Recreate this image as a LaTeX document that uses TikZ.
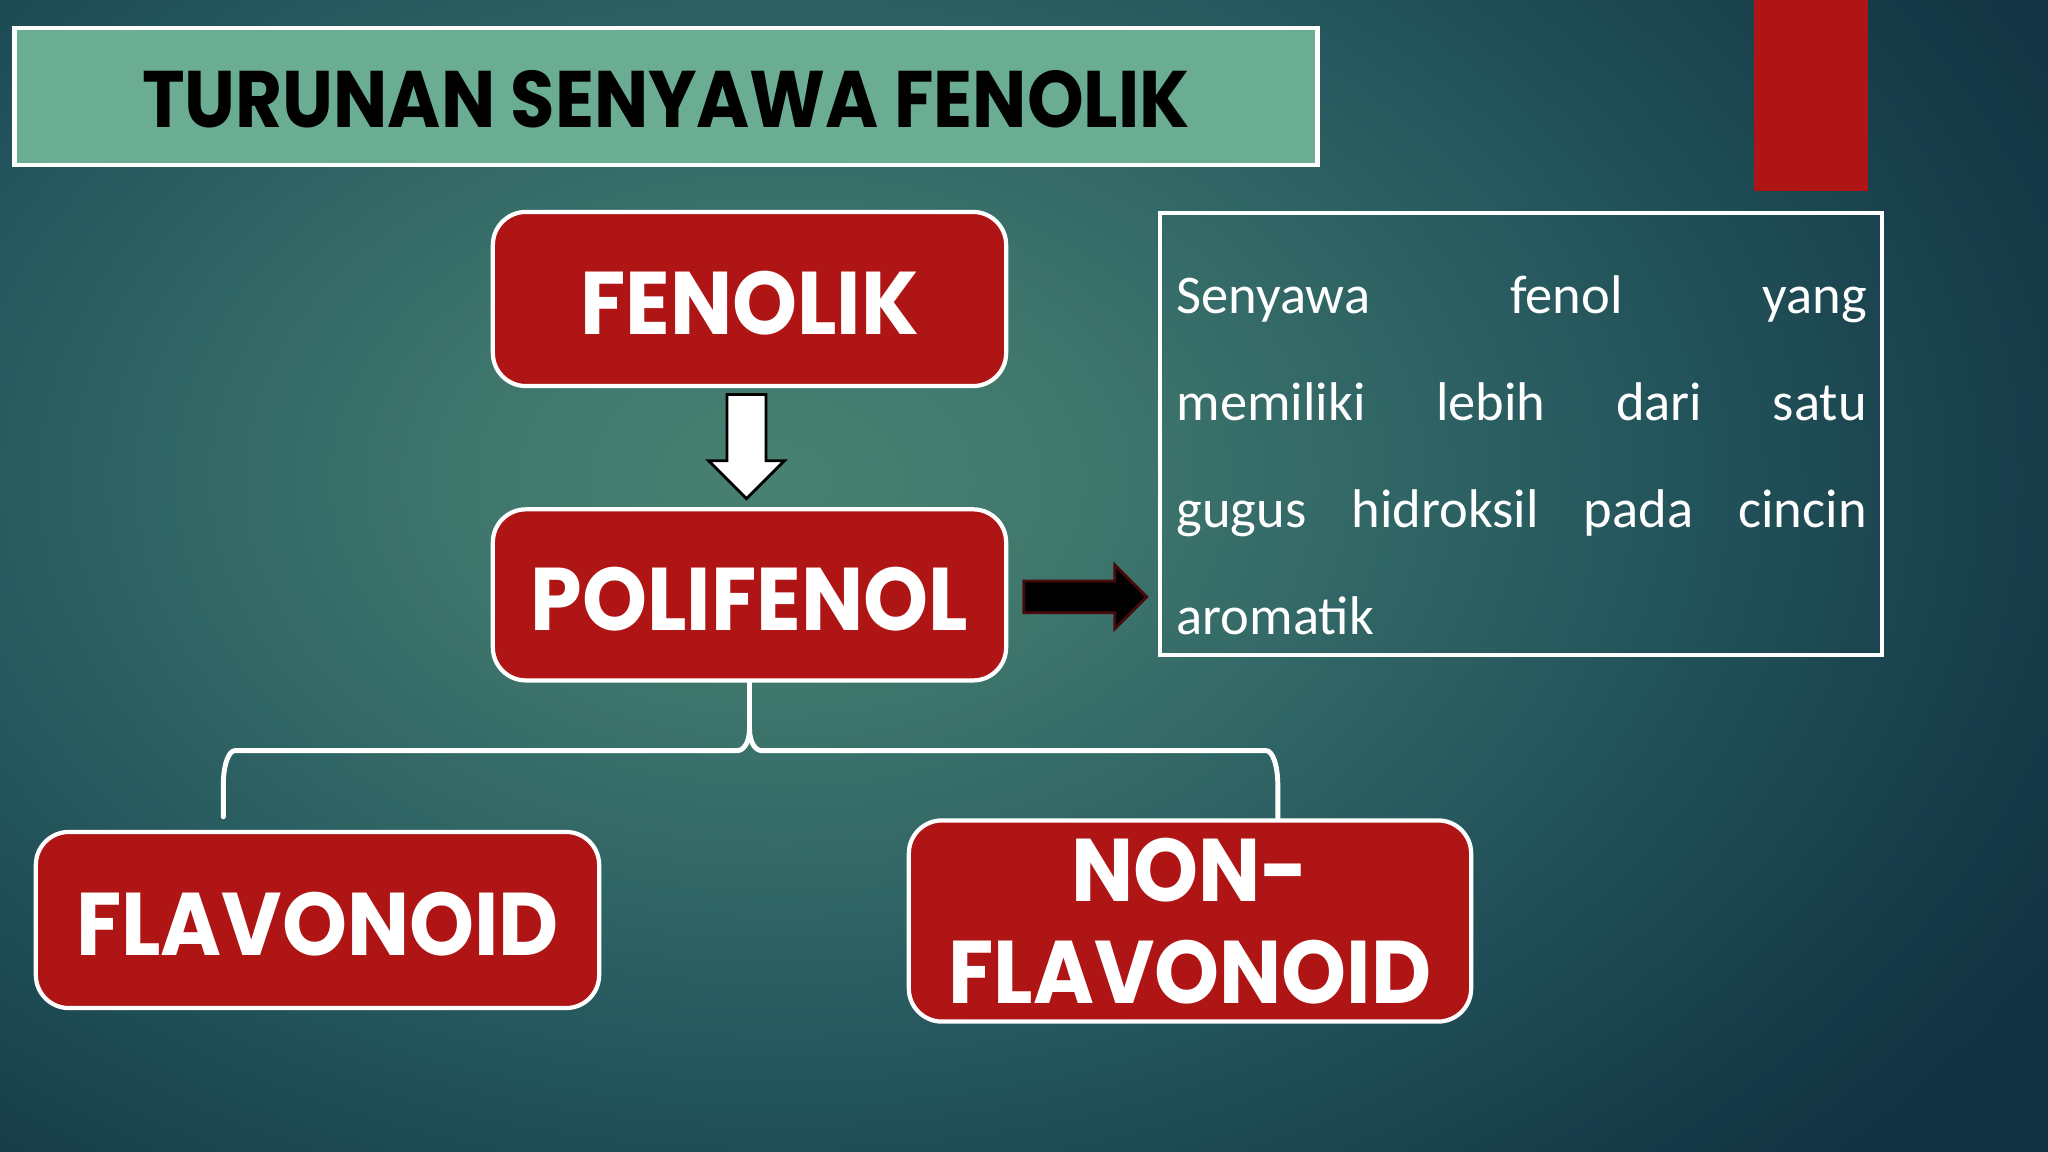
\documentclass[tikz,border=0pt]{standalone}
\usepackage{fontspec}
\setmainfont{Carlito}
\newfontfamily\gothic[FakeStretch=0.93]{Poppins}
\newfontfamily\gothictitle[FakeStretch=0.9]{Poppins}
\usepackage{tikz}
\usetikzlibrary{shapes.arrows, calc, positioning}
\definecolor{boxred}{RGB}{175,21,21}
\definecolor{titlegreen}{RGB}{107,173,146}
\definecolor{arrowrim}{RGB}{72,10,10}
\definecolor{bgcenter}{RGB}{72,128,113}
\definecolor{bginner}{RGB}{64,120,109}
\definecolor{bgmid}{RGB}{48,101,101}
\definecolor{bgouter}{RGB}{35,84,91}
\definecolor{bgdark}{RGB}{25,66,77}
\definecolor{bgedge}{RGB}{18,50,65}
\pgfdeclareradialshading{backglow}{\pgfpoint{0bp}{0bp}}{color(0bp)=(bgcenter); color(5bp)=(bginner); color(11bp)=(bgmid); color(16bp)=(bgouter); color(21bp)=(bgdark); color(26bp)=(bgedge); color(50bp)=(bgedge)}
\tikzstyle{titlebox} = [rectangle, draw=white, line width=1.3pt, fill=titlegreen, minimum width=13.02cm, minimum height=1.37cm, text height=18pt, font=\gothictitle\bfseries\fontsize{22.8}{26}\selectfont]
\tikzstyle{redbox} = [rectangle, rounded corners=0.33cm, draw=white, line width=1.2pt, fill=boxred, text=white, align=center, inner sep=0pt, font=\gothic\bfseries\fontsize{25.3}{29}\selectfont]
\tikzstyle{descframe} = [rectangle, draw=white, line width=1.1pt, minimum width=7.22cm, minimum height=4.42cm]
\tikzstyle{desctext} = [text=white, text width=6.9cm, align=left, inner sep=0pt, font=\fontsize{15.5}{30.4}\selectfont]
\tikzstyle{downarrow} = [single arrow, draw=black, line width=0.8pt, fill=white, minimum height=1.04cm, inner xsep=0pt, inner ysep=0.18cm, single arrow head extend=0.185cm, single arrow head indent=0cm]
\tikzstyle{rightarrow} = [single arrow, draw=arrowrim, line width=0.8pt, fill=black, minimum height=1.23cm, inner xsep=0pt, inner ysep=0.145cm, single arrow head extend=0.16cm, single arrow head indent=0cm]
\tikzstyle{bracket} = [draw=white, line width=1.4pt, line cap=round]

\begin{document}
\begin{tikzpicture}[x=0.01cm, y=-0.01cm]
		\useasboundingbox (0,0) rectangle (2048,1152);
		\begin{scope}
			\clip (0,0) rectangle (2048,1152);
			\shade[shading=backglow] (-620,-470) rectangle (2180,1430);
		\end{scope}
		\fill[boxred] (1754,0) rectangle (1868,191);
		\node (title) [titlebox] at (666,96.5) {TURUNAN SENYAWA FENOLIK};
		\node (fenolik) [redbox, minimum width=5.13cm, minimum height=1.74cm, text height=20.5pt] at (749.5,299) {FENOLIK};
		\node (polifenol) [redbox, minimum width=5.13cm, minimum height=1.71cm, text height=20.5pt, below = 1.19cm of fenolik] {POLIFENOL};
		\node (flavonoid) [redbox, minimum width=5.63cm, minimum height=1.76cm, text height=20.5pt] at (317.5,920) {FLAVONOID};
		\node (nonflav) [redbox, minimum width=5.62cm, minimum height=2.01cm] at (1190,921) {NON-\\FLAVONOID};
		\node (desc) [descframe] at (1521,434) {};
		\node (desctext) [desctext, anchor=north west] at ($(desc.north west)+(18,64)$) {%
			\makebox[6.9cm]{Senyawa\hfill fenol\hfill yang}\\
			\makebox[6.9cm]{memiliki\hfill lebih\hfill dari\hfill satu}\\
			\makebox[6.9cm]{gugus\hfill hidroksil\hfill pada\hfill cincin}\\
			aromatik};
		\node (down) [downarrow, rotate=-90, anchor=tail] at ($(fenolik.south)+(-3,5)$) {};
		\node (side) [rightarrow, anchor=tail] at ($(polifenol.east)+(14,2)$) {};
		\coordinate (split) at ($(polifenol.south)+(0,68)$);
		\coordinate (flavtop) at ($(flavonoid.north west)!0.334!(flavonoid.north east)$);
		\coordinate (nonflavtop) at ($(nonflav.north west)!0.655!(nonflav.north east)$);
		\draw [bracket] (polifenol.south) -- ++(0,46) .. controls +(0,14) and +(6,0) .. ($(split)+(-12,0)$) -- ($(flavtop |- split)+(12,0)$) .. controls +(-7,0) and +(0,-20) .. ($(flavtop |- split)+(0,35)$) -- ($(flavtop)+(0,-13)$);
		\draw [bracket] ($(polifenol.south)+(0,46)$) .. controls +(0,14) and +(-6,0) .. ($(split)+(12,0)$) -- ($(nonflavtop |- split)+(-12,0)$) .. controls +(7,0) and +(0,-20) .. ($(nonflavtop |- split)+(0,35)$) -- (nonflavtop);
\end{tikzpicture}
\end{document}
